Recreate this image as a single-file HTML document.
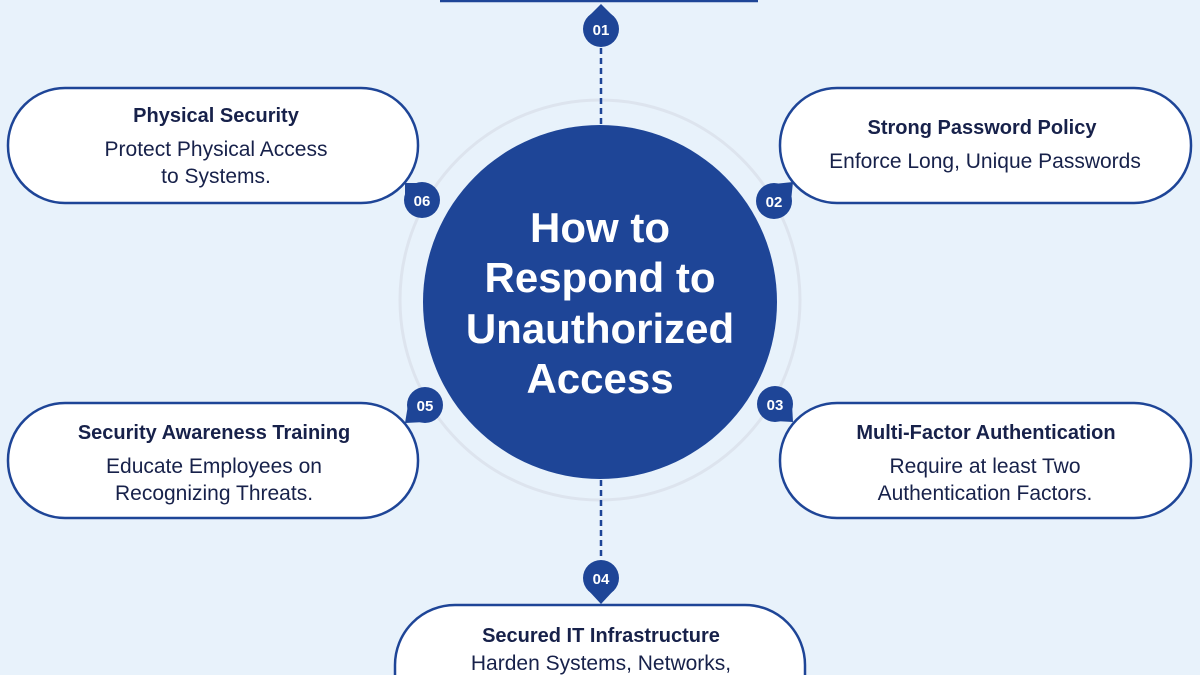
<!DOCTYPE html>
<html><head><meta charset="utf-8"><style>
html,body{margin:0;padding:0;background:#e8f2fb;width:1200px;height:675px;overflow:hidden;}
svg{display:block;}
.t{font-family:"Liberation Sans",sans-serif;font-weight:bold;font-size:20px;fill:#17214a;text-anchor:middle;}
.b{font-family:"Liberation Sans",sans-serif;font-size:21px;fill:#17214a;text-anchor:middle;}
.c{font-family:"Liberation Sans",sans-serif;font-weight:bold;font-size:42px;fill:#fff;text-anchor:middle;}
.n{font-family:"Liberation Sans",sans-serif;font-weight:bold;font-size:15px;fill:#fff;text-anchor:middle;}
.box{fill:#fff;stroke:#1e4597;stroke-width:2.5;}
</style></head><body>
<svg width="1200" height="675" viewBox="0 0 1200 675" xmlns="http://www.w3.org/2000/svg">
<rect width="1200" height="675" fill="#e8f2fb"/>
<circle cx="600" cy="300" r="200" fill="none" stroke="#dde4ee" stroke-width="3"/>
<line x1="601" y1="48" x2="601" y2="125" stroke="#1e4597" stroke-width="2.5" stroke-dasharray="6,4"/>
<line x1="601" y1="480" x2="601" y2="560" stroke="#1e4597" stroke-width="2.5" stroke-dasharray="6,4"/>
<circle cx="600" cy="302" r="177" fill="#1e4597"/>
<text class="c" x="600" y="242">How to</text>
<text class="c" x="600" y="292">Respond to</text>
<text class="c" x="600" y="343">Unauthorized</text>
<text class="c" x="600" y="393">Access</text>

<path class="box" d="M440,0 V0 H758 V0" />
<path class="box" d="M440,1 H758" />
<rect class="box" x="8" y="88" width="410" height="115" rx="57"/>
<rect class="box" x="780" y="88" width="411" height="115" rx="57"/>
<rect class="box" x="8" y="403" width="410" height="115" rx="57"/>
<rect class="box" x="780" y="403" width="411" height="115" rx="57"/>
<path class="box" d="M395,675 V665 A60,60 0 0 1 455,605 H745 A60,60 0 0 1 805,665 V675"/>

<g fill="#1e4597">
<circle cx="601" cy="29" r="18"/><polygon points="588,17 614,17 601,4"/>
<circle cx="601" cy="578" r="18"/><polygon points="588,590 614,590 601,604"/>
<circle cx="422" cy="200" r="18"/><polygon points="405,200 422,183 405,183"/>
<circle cx="774" cy="201" r="18"/><polygon points="774,184 791,201 793,182"/>
<circle cx="775" cy="404" r="18"/><polygon points="792,404 775,421 793,422"/>
<circle cx="425" cy="405" r="18"/><polygon points="408,405 425,422 405,423"/>
</g>
<text class="n" x="601" y="35">01</text>
<text class="n" x="774" y="207">02</text>
<text class="n" x="775" y="410">03</text>
<text class="n" x="601" y="584">04</text>
<text class="n" x="425" y="411">05</text>
<text class="n" x="422" y="206">06</text>

<text class="t" x="216" y="122">Physical Security</text>
<text class="b" x="216" y="156">Protect Physical Access</text>
<text class="b" x="216" y="183">to Systems.</text>

<text class="t" x="982" y="134">Strong Password Policy</text>
<text class="b" x="985" y="168">Enforce Long, Unique Passwords</text>

<text class="t" x="214" y="439">Security Awareness Training</text>
<text class="b" x="214" y="473">Educate Employees on</text>
<text class="b" x="214" y="500">Recognizing Threats.</text>

<text class="t" x="986" y="439">Multi-Factor Authentication</text>
<text class="b" x="985" y="473">Require at least Two</text>
<text class="b" x="985" y="500">Authentication Factors.</text>

<text class="t" x="601" y="642">Secured IT Infrastructure</text>
<text class="b" x="601" y="670">Harden Systems, Networks,</text>
</svg>
</body></html>
